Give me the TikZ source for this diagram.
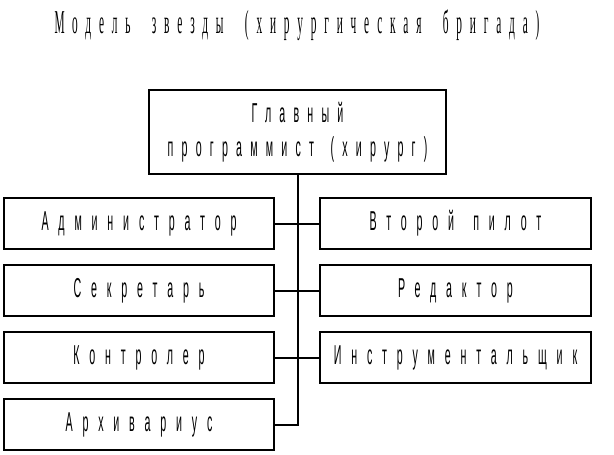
\documentclass[tikz,border=0pt]{standalone}
\usepackage{fontspec}
\newfontfamily\boxfont[FakeStretch=0.39,LetterSpace=36,WordSpace=1.5]{Liberation Sans}
\newfontfamily\chieffont[FakeStretch=0.39,LetterSpace=30,WordSpace=1.5]{Liberation Sans}
\newfontfamily\headfont[FakeStretch=0.34,LetterSpace=23.5,WordSpace=2]{Liberation Serif}
\tikzset{
	role/.style={draw, line width=1.5pt, minimum height=38.25pt, inner sep=0pt,
		font=\boxfont\fontsize{20.5}{25.5}\selectfont},
	lrole/.style={role, minimum width=202.5pt},
	rrole/.style={role, minimum width=203.25pt},
	link/.style={line width=1.5pt}
}
\begin{document}
\begin{tikzpicture}[x=0.75pt, y=-0.75pt]
	\useasboundingbox (0,0) rectangle (614,454);
	\node[font=\headfont\fontsize{25}{28}\selectfont, anchor=base] (title) at (297,33) {Модель звезды (хирургическая бригада)};
	\node[role, minimum width=222.75pt, minimum height=63pt, align=center,
		font=\chieffont\fontsize{20.5}{25.5}\selectfont] (chief) at (297.5,132) {Главный\\программист (хирург)};
	% left column
	\node[lrole] (admin) at (139,223.5) {Администратор};
	\node[lrole] (secr)  at (139,290.5) {Секретарь};
	\node[lrole] (ctrl)  at (139,357.5) {Контролер};
	\node[lrole] (arch)  at (139,424.5) {Архивариус};
	% right column
	\node[rrole] (copilot) at (455.5,223.5) {Второй пилот};
	\node[rrole] (editor)  at (455.5,290.5) {Редактор};
	\node[rrole] (tool)    at (455.5,357.5) {Инструментальщик};
	% connectors
	\draw[link] (chief.south) |- (arch.east);
	\foreach \a/\b in {admin/copilot, secr/editor, ctrl/tool}
		\draw[link] (\a.east) -- (\b.west);
\end{tikzpicture}
\end{document}
